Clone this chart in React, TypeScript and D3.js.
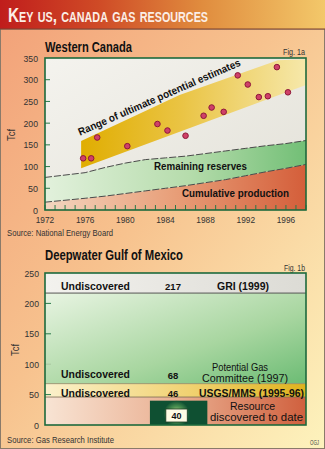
import React from "react";
import * as d3 from "d3";

// ---------- DATA ----------
const titleText = "Key us, canada gas resources"; // rendered in small caps
const yearTicks = [1972, 1976, 1980, 1984, 1988, 1992, 1996];
const topYTicks = [0, 50, 100, 150, 200, 250, 300, 350];
const areaYears = [1972, 1976, 1978, 1980, 1982, 1984, 1986, 1988, 1990, 1992, 1994, 1996, 1998];
const remainingTop = [75, 86, 98, 108, 116, 120, 124, 130, 136, 142, 148, 153, 160];
const cumulativeProduction = [18, 27, 32, 38, 44, 50, 56, 63, 70, 79, 88, 96, 105];
const rangeUpper = [[1975.6, 159], [1985.4, 265], [1995.2, 345], [1998, 347]];
const rangeLower = [[1975.6, 96], [1998, 288]];
const estimateYears = [1975.8, 1976.6, 1977.2, 1980.2, 1983.2, 1984.2, 1986.0, 1987.8, 1988.6, 1989.8, 1991.2, 1992.2, 1993.3, 1994.2, 1995.1, 1996.2];
const estimateValues = [119, 119, 167, 147, 198, 183, 171, 217, 236, 226, 310, 289, 260, 262, 329, 271];

const gomYTicks = [0, 50, 100, 150, 200, 250];
const gomSources = ["GRI (1999)", "Potential Gas Committee (1997)", "USGS/MMS (1995-96)"];
const gomTotals = [217, 68, 46];
const discoveredToDate = 40;

// ---------- LAYOUT ----------
const W = 325, H = 449;
const sans = "'Liberation Sans',Arial,sans-serif";

export default function App() {
  const xTop = d3.scaleLinear().domain([1972, 1998]).range([45, 306]);
  const yTop = d3.scaleLinear().domain([0, 350]).range([210, 58]);
  const xBot = d3.scaleLinear().domain([0, 100]).range([45, 306]);
  const yBot = d3.scaleLinear().domain([0, 250]).range([425, 273]);

  const remPts = areaYears.map((y, i) => [y, remainingTop[i], cumulativeProduction[i]]);
  const cumArea = d3.area<number[]>()
    .x((d) => xTop(d[0])).y0(yTop(0)).y1((d) => yTop(d[2]))(remPts) || "";
  const remArea = d3.area<number[]>()
    .x((d) => xTop(d[0])).y0((d) => yTop(d[2])).y1((d) => yTop(d[1]))(remPts) || "";
  const remLine = d3.line<number[]>().x((d) => xTop(d[0])).y((d) => yTop(d[1]))(remPts) || "";
  const cumLine = d3.line<number[]>().x((d) => xTop(d[0])).y((d) => yTop(d[2]))(remPts) || "";
  const bandPoly = [...rangeUpper, ...rangeLower.slice().reverse()];
  const bandPath = d3.line<number[]>().x((d) => xTop(d[0])).y((d) => yTop(d[1]))(bandPoly) + "Z";

  const allYears = d3.range(1972, 1999);
  const ang = -23.6;

  const barX0 = xBot(40.2), barX1 = xBot(62.2);
  const barY0 = yBot(discoveredToDate), barY1 = yBot(0);

  return (
    <svg width={W} height={H} style={{ position: "absolute", left: 0, top: 0 }} xmlns="http://www.w3.org/2000/svg">
      <defs>
        <linearGradient id="bg" x1="0" y1="0" x2="1" y2="1">
          <stop offset="0" stopColor="#f2a078" />
          <stop offset="0.45" stopColor="#f7c28e" />
          <stop offset="1" stopColor="#fdf3bd" />
        </linearGradient>
        <linearGradient id="title" x1="0" y1="0" x2="1" y2="0">
          <stop offset="0" stopColor="#c01d1c" />
          <stop offset="0.3" stopColor="#cf4a26" />
          <stop offset="0.62" stopColor="#e08c3e" />
          <stop offset="1" stopColor="#f3c86a" />
        </linearGradient>
        <linearGradient id="plotbg" x1="0" y1="0" x2="1" y2="1">
          <stop offset="0" stopColor="#f4f3ee" />
          <stop offset="1" stopColor="#e3e1d8" />
        </linearGradient>
        <linearGradient id="yband" gradientUnits="userSpaceOnUse" x1="80" y1="0" x2="306" y2="0">
          <stop offset="0" stopColor="#e0ad00" />
          <stop offset="0.45" stopColor="#eac444" />
          <stop offset="1" stopColor="#f6e8aa" />
        </linearGradient>
        <linearGradient id="gband" gradientUnits="userSpaceOnUse" x1="45" y1="0" x2="306" y2="0">
          <stop offset="0" stopColor="#e2f1dc" />
          <stop offset="0.55" stopColor="#b6dcac" />
          <stop offset="1" stopColor="#72bf76" />
        </linearGradient>
        <linearGradient id="oband" gradientUnits="userSpaceOnUse" x1="45" y1="0" x2="306" y2="0">
          <stop offset="0" stopColor="#f4d6c0" />
          <stop offset="0.5" stopColor="#e89e78" />
          <stop offset="1" stopColor="#d45e3a" />
        </linearGradient>
        <linearGradient id="gray2" x1="0" y1="0" x2="1" y2="0">
          <stop offset="0" stopColor="#f3f2ee" />
          <stop offset="1" stopColor="#dcdbd5" />
        </linearGradient>
        <linearGradient id="green2" x1="0" y1="0" x2="1" y2="1">
          <stop offset="0" stopColor="#e8f4e2" />
          <stop offset="0.6" stopColor="#a8d6a0" />
          <stop offset="1" stopColor="#6cbc74" />
        </linearGradient>
        <linearGradient id="yellow2" x1="0" y1="0" x2="1" y2="0">
          <stop offset="0" stopColor="#fbf1cc" />
          <stop offset="0.55" stopColor="#f1d272" />
          <stop offset="1" stopColor="#dfb21c" />
        </linearGradient>
        <linearGradient id="orange2" x1="0" y1="0" x2="1" y2="0">
          <stop offset="0" stopColor="#f8e4d4" />
          <stop offset="0.5" stopColor="#eab092" />
          <stop offset="1" stopColor="#d0603e" />
        </linearGradient>
        <radialGradient id="glow">
          <stop offset="0" stopColor="#e8e4a0" />
          <stop offset="0.55" stopColor="#4c9252" />
          <stop offset="1" stopColor="#0f5032" />
        </radialGradient>
        <clipPath id="barclip">
          <rect x={barX0} y={barY0} width={barX1 - barX0} height={barY1 - barY0} />
        </clipPath>
      </defs>

      {/* background */}
      <rect x={0} y={0} width={W} height={H} fill="url(#bg)" />
      <rect x={0.5} y={29} width={W - 1} height={H - 29.5} fill="none" stroke="#8a7a6a" strokeWidth={1} />
      <rect x={0} y={0} width={W} height={29} fill="url(#title)" />
      <line x1={0} x2={W} y1={29} y2={29} stroke="#7a4030" strokeWidth={1} />
      <text x={8} y={22} fontFamily={sans} fontWeight="bold" fontSize={20} fill="#fbeee6"
        style={{ fontVariant: "small-caps" }}
        textLength={200} lengthAdjust="spacingAndGlyphs">{titleText}</text>

      {/* ---------- TOP CHART ---------- */}
      <text x={45} y={52} fontFamily={sans} fontWeight="bold" fontSize={14} fill="#111"
        textLength={87} lengthAdjust="spacingAndGlyphs">Western Canada</text>
      <text x={305} y={55} textAnchor="end" fontFamily={sans} fontSize={8.5} fill="#333"
        textLength={22} lengthAdjust="spacingAndGlyphs">Fig. 1a</text>

      <rect x={xTop(1972)} y={yTop(350)} width={xTop(1998) - xTop(1972)} height={yTop(0) - yTop(350)} fill="url(#plotbg)" />
      <path d={cumArea} fill="url(#oband)" />
      <path d={remArea} fill="url(#gband)" />
      <path d={bandPath} fill="url(#yband)" />
      <path d={remLine} fill="none" stroke="#4a4a4a" strokeWidth={1} strokeDasharray="7,2" />
      <path d={cumLine} fill="none" stroke="#4a4a4a" strokeWidth={1} strokeDasharray="7,2" />

      {estimateYears.map((yr, i) => (
        <circle key={i} cx={xTop(yr)} cy={yTop(estimateValues[i])} r={2.8} fill="#cf4068" stroke="#8e1838" strokeWidth={1} />
      ))}

      <text transform={`translate(80,135.7) rotate(${ang})`} fontFamily={sans} fontWeight="bold" fontSize={10.5} fill="#111"
        textLength={176} lengthAdjust="spacingAndGlyphs">Range of ultimate potential estimates</text>
      <text x={154} y={169.5} fontFamily={sans} fontWeight="bold" fontSize={10} fill="#111"
        textLength={93} lengthAdjust="spacingAndGlyphs">Remaining reserves</text>
      <text x={182} y={197} fontFamily={sans} fontWeight="bold" fontSize={10} fill="#111"
        textLength={107} lengthAdjust="spacingAndGlyphs">Cumulative production</text>

      {/* ticks */}
      {allYears.map((yr) => (
        <line key={yr} x1={xTop(yr)} x2={xTop(yr)} y1={yTop(0)} y2={yTop(0) - 5} stroke="#2a7a4a" strokeWidth={1} />
      ))}
      {topYTicks.slice(1, -1).map((v) => (
        <line key={v} x1={xTop(1972)} x2={xTop(1972) + 5} y1={yTop(v)} y2={yTop(v)} stroke="#2a7a4a" strokeWidth={1} />
      ))}
      <rect x={xTop(1972)} y={yTop(350)} width={xTop(1998) - xTop(1972)} height={yTop(0) - yTop(350)} fill="none" stroke="#1d6a3c" strokeWidth={1.6} />

      {topYTicks.map((v) => (
        <text key={v} x={38} y={yTop(v) + 3.5} textAnchor="end" fontFamily={sans} fontSize={9.5} fill="#333"
          textLength={v === 0 ? 5 : v < 100 ? 10 : 14.5} lengthAdjust="spacingAndGlyphs">{v}</text>
      ))}
      {yearTicks.map((yr) => (
        <text key={yr} x={xTop(yr)} y={222.5} textAnchor="middle" fontFamily={sans} fontSize={9.5} fill="#333"
          textLength={18.5} lengthAdjust="spacingAndGlyphs">{yr}</text>
      ))}
      <text transform="translate(15,135) rotate(-90)" textAnchor="middle" fontFamily={sans} fontSize={10} fill="#333"
        textLength={12} lengthAdjust="spacingAndGlyphs">Tcf</text>
      <text x={7} y={236} fontFamily={sans} fontSize={9.5} fill="#333" textLength={106} lengthAdjust="spacingAndGlyphs">Source: National Energy Board</text>

      {/* ---------- BOTTOM CHART ---------- */}
      <text x={45} y={260} fontFamily={sans} fontWeight="bold" fontSize={14} fill="#111"
        textLength={138} lengthAdjust="spacingAndGlyphs">Deepwater Gulf of Mexico</text>
      <text x={305} y={271} textAnchor="end" fontFamily={sans} fontSize={8.5} fill="#333"
        textLength={21} lengthAdjust="spacingAndGlyphs">Fig. 1b</text>

      <rect x={xBot(0)} y={yBot(250)} width={xBot(100) - xBot(0)} height={yBot(gomTotals[0]) - yBot(250)} fill="url(#gray2)" />
      <rect x={xBot(0)} y={yBot(gomTotals[0])} width={xBot(100) - xBot(0)} height={yBot(gomTotals[1]) - yBot(gomTotals[0])} fill="url(#green2)" />
      <rect x={xBot(0)} y={yBot(gomTotals[1])} width={xBot(100) - xBot(0)} height={yBot(gomTotals[2]) - yBot(gomTotals[1])} fill="url(#yellow2)" />
      <rect x={xBot(0)} y={yBot(gomTotals[2])} width={xBot(100) - xBot(0)} height={yBot(0) - yBot(gomTotals[2])} fill="url(#orange2)" />
      <line x1={xBot(0)} x2={xBot(100)} y1={yBot(gomTotals[0])} y2={yBot(gomTotals[0])} stroke="#555" strokeWidth={1} />
      <line x1={xBot(0)} x2={xBot(100)} y1={yBot(gomTotals[1])} y2={yBot(gomTotals[1])} stroke="#8a8a6a" strokeWidth={0.8} />
      <line x1={xBot(0)} x2={xBot(100)} y1={yBot(gomTotals[2])} y2={yBot(gomTotals[2])} stroke="#7a6a50" strokeWidth={0.8} />

      {/* discovered bar */}
      <rect x={barX0} y={barY0} width={barX1 - barX0} height={barY1 - barY0} fill="#0f5032" />
      <g clipPath="url(#barclip)">
        <circle cx={xBot(50.4)} cy={(barY0 + barY1) / 2 + 1} r={13} fill="url(#glow)" />
      </g>
      <rect x={xBot(46.3)} y={409} width={xBot(54.5) - xBot(46.3)} height={13} fill="#fffbe4" stroke="#1a3a22" strokeWidth={0.8} />
      <text x={xBot(50.4)} y={419} textAnchor="middle" fontFamily={sans} fontWeight="bold" fontSize={9} fill="#111">{discoveredToDate}</text>

      {/* band labels */}
      {[290, 378, 397].map((by, i) => (
        <text key={i} x={61} y={by} fontFamily={sans} fontWeight="bold" fontSize={10} fill="#111"
          textLength={69} lengthAdjust="spacingAndGlyphs">Undiscovered</text>
      ))}
      {gomTotals.map((v, i) => (
        <text key={v} x={173} y={[290, 379, 397][i]} textAnchor="middle" fontFamily={sans} fontWeight="bold" fontSize={9.5} fill="#111">{v}</text>
      ))}
      <text x={243} y={290} textAnchor="middle" fontFamily={sans} fontWeight="bold" fontSize={10} fill="#111"
        textLength={52} lengthAdjust="spacingAndGlyphs">{gomSources[0]}</text>
      <text x={240} y={371} textAnchor="middle" fontFamily={sans} fontSize={10.5} fill="#111"
        textLength={56} lengthAdjust="spacingAndGlyphs">Potential Gas</text>
      <text x={245} y={381.5} textAnchor="middle" fontFamily={sans} fontSize={10.5} fill="#111"
        textLength={86} lengthAdjust="spacingAndGlyphs">Committee (1997)</text>
      <text x={251.5} y={397} textAnchor="middle" fontFamily={sans} fontWeight="bold" fontSize={10} fill="#111"
        textLength={105} lengthAdjust="spacingAndGlyphs">{gomSources[2]}</text>
      <text x={252.5} y={410} textAnchor="middle" fontFamily={sans} fontSize={10.5} fill="#111"
        textLength={45} lengthAdjust="spacingAndGlyphs">Resource</text>
      <text x={256.5} y={420.5} textAnchor="middle" fontFamily={sans} fontSize={10.5} fill="#111"
        textLength={93} lengthAdjust="spacingAndGlyphs">discovered to date</text>

      {gomYTicks.slice(1, -1).map((v) => (
        <line key={v} x1={xBot(0)} x2={xBot(0) + 6} y1={yBot(v)} y2={yBot(v)} stroke={v === 100 ? "#a8c8a0" : "#2a7a4a"} strokeWidth={1} />
      ))}
      <rect x={xBot(0)} y={yBot(250)} width={xBot(100) - xBot(0)} height={yBot(0) - yBot(250)} fill="none" stroke="#1d6a3c" strokeWidth={1.6} />
      {gomYTicks.map((v) => (
        <text key={v} x={39} y={yBot(v) + 3.5} textAnchor="end" fontFamily={sans} fontSize={9.5} fill="#333"
          textLength={v === 0 ? 5 : v < 100 ? 10 : 14.5} lengthAdjust="spacingAndGlyphs">{v}</text>
      ))}
      <text transform="translate(19,350) rotate(-90)" textAnchor="middle" fontFamily={sans} fontSize={10} fill="#333"
        textLength={12} lengthAdjust="spacingAndGlyphs">Tcf</text>
      <text x={7} y={443} fontFamily={sans} fontSize={9.5} fill="#333" textLength={107} lengthAdjust="spacingAndGlyphs">Source: Gas Research Institute</text>
      <text x={319} y={445} textAnchor="end" fontFamily={sans} fontSize={7} fill="#444"
        textLength={9} lengthAdjust="spacingAndGlyphs">OGJ</text>
    </svg>
  );
}
